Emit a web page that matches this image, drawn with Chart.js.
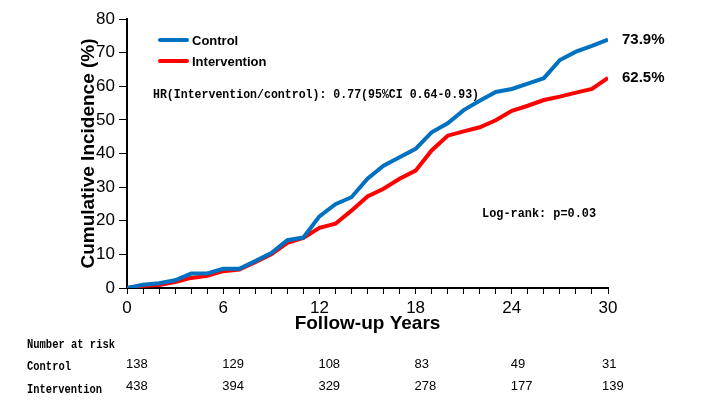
<!DOCTYPE html>
<html>
<head>
<meta charset="utf-8">
<script src="https://cdn.jsdelivr.net/npm/chart.js@4.4.1/dist/chart.umd.min.js"></script>
<style>
    html, body { margin: 0; padding: 0; background: #fff; }
</style>
</head>
<body>
<canvas id="incidence-chart" width="727" height="413"></canvas>
<script>
var years = [0, 1, 2, 3, 4, 5, 6, 7, 8, 9, 10, 11, 12, 13, 14, 15, 16, 17, 18, 19, 20, 21, 22, 23, 24, 25, 26, 27, 28, 29, 30];
var control = [0, 1.0, 1.4, 2.3, 4.3, 4.3, 5.7, 5.7, 8.0, 10.4, 14.2, 15.0, 21.3, 24.9, 27.0, 32.5, 36.4, 38.9, 41.4, 46.3, 49.0, 52.9, 55.7, 58.3, 59.2, 60.8, 62.4, 67.8, 70.3, 72.0, 73.9];
var intervention = [0, 0.7, 0.9, 1.8, 3.0, 3.6, 5.0, 5.5, 7.7, 10.0, 13.4, 14.9, 17.9, 19.1, 23.0, 27.2, 29.5, 32.5, 34.9, 40.9, 45.3, 46.6, 47.8, 49.9, 52.7, 54.2, 55.9, 56.9, 58.1, 59.2, 62.5];
var endLabels = ["73.9%", "62.5%"];

var riskYears = [0, 6, 12, 18, 24, 30];
var riskControl = [138, 129, 108, 83, 49, 31];
var riskIntervention = [438, 394, 329, 278, 177, 139];

var hrText = "HR(Intervention/control): 0.77(95%CI 0.64-0.93)";
var logRankText = "Log-rank: p=0.03";

(
    function () {
        var canvas = document.getElementById("incidence-chart");
        var BLUE = "#0070C0",
            RED = "#FF0000";

        function points(values) {
            return years.map(function (y, i) {
                return { x: y, y: values[i] };
            });
        }

        // texto fora do eixo: legenda, HR, tabela de risco
        var annotations = {
            id: "annotations",
            afterDraw: function (chart) {
                var ctx = chart.ctx,
                    xs = chart.scales.x,
                    ys = chart.scales.y;

                ctx.save();
                ctx.textBaseline = "alphabetic";
                ctx.fillStyle = "#000";

                // legenda
                ctx.lineCap = "round";
                ctx.lineWidth = 4;
                [["Control", BLUE, 40], ["Intervention", RED, 61]].forEach(function (item) {
                    ctx.strokeStyle = item[1];
                    ctx.beginPath();
                    ctx.moveTo(160, item[2]);
                    ctx.lineTo(187, item[2]);
                    ctx.stroke();
                    ctx.font = "bold 13px 'Liberation Sans', Arial, sans-serif";
                    ctx.textAlign = "left";
                    ctx.fillText(item[0], 192, item[2] + 4.5);
                });

                // HR e log-rank
                ctx.font = "bold 13px 'Liberation Mono', 'Courier New', monospace";
                ctx.fillText(hrText, 153, 98, 326);
                ctx.fillText(logRankText, 482, 216.5, 114);

                // percentuais finais
                ctx.font = "bold 15px 'Liberation Sans', Arial, sans-serif";
                var lastX = xs.getPixelForValue(years[years.length - 1]) + 14;
                ctx.fillText(endLabels[0], lastX, ys.getPixelForValue(control[control.length - 1]) + 4);
                ctx.fillText(endLabels[1], lastX, ys.getPixelForValue(intervention[intervention.length - 1]) + 4.5);

                // tabela de número em risco
                ctx.font = "bold 12px 'Liberation Mono', 'Courier New', monospace";
                ctx.fillText("Number at risk", 27, 348, 88);
                ctx.fillText("Control", 27, 370, 44);
                ctx.fillText("Intervention", 27, 392.5, 75);

                ctx.font = "13px 'Liberation Sans', Arial, sans-serif";
                riskYears.forEach(function (yr, i) {
                    var px = xs.getPixelForValue(yr) - 1 - (i === riskYears.length - 1 ? 5 : 0);
                    ctx.fillText(String(riskControl[i]), px, 367.5);
                    ctx.fillText(String(riskIntervention[i]), px, 390);
                });

                ctx.restore();
            }
        };

        new Chart(canvas, {
            type: "line",
            data: {
                datasets: [
                    {
                        label: "Control",
                        data: points(control),
                        borderColor: BLUE,
                        backgroundColor: BLUE,
                        borderWidth: 4,
                        pointRadius: 0,
                        tension: 0
                    },
                    {
                        label: "Intervention",
                        data: points(intervention),
                        borderColor: RED,
                        backgroundColor: RED,
                        borderWidth: 4,
                        pointRadius: 0,
                        tension: 0
                    }
                ]
            },
            options: {
                responsive: false,
                animation: false,
                events: [],
                layout: {
                    padding: { left: 0, right: 119, top: 19, bottom: 0 }
                },
                plugins: {
                    legend: { display: false },
                    tooltip: { enabled: false }
                },
                scales: {
                    x: {
                        type: "linear",
                        min: 0,
                        max: 30,
                        afterFit: function (scale) { scale.height = 125; },
                        border: { color: "#000", width: 2 },
                        grid: { drawOnChartArea: false, drawTicks: true, tickLength: 6, color: "#000", lineWidth: 1 },
                        ticks: {
                            stepSize: 1,
                            autoSkip: false,
                            maxRotation: 0,
                            padding: 4,
                            color: "#000",
                            font: { family: "'Liberation Sans', Arial, sans-serif", size: 17 },
                            callback: function (v) { return v % 6 === 0 ? v : ""; }
                        },
                        title: {
                            display: true,
                            text: "Follow-up Years",
                            color: "#000",
                            font: { family: "'Liberation Sans', Arial, sans-serif", size: 19, weight: "bold" },
                            padding: { top: 0, bottom: 77.5 }
                        }
                    },
                    y: {
                        min: 0,
                        max: 80,
                        afterFit: function (scale) { scale.width = 127; },
                        border: { color: "#000", width: 2 },
                        grid: { drawOnChartArea: false, drawTicks: true, tickLength: 8, color: "#000", lineWidth: 1 },
                        ticks: {
                            stepSize: 10,
                            padding: 4,
                            color: "#000",
                            font: { family: "'Liberation Sans', Arial, sans-serif", size: 17 }
                        },
                        title: {
                            display: true,
                            text: "Cumulative Incidence (%)",
                            color: "#000",
                            font: { family: "'Liberation Sans', Arial, sans-serif", size: 19, weight: "bold" },
                            padding: { top: 77, bottom: 0 }
                        }
                    }
                }
            },
            plugins: [annotations]
        });
    }
)();
</script>
</body>
</html>
